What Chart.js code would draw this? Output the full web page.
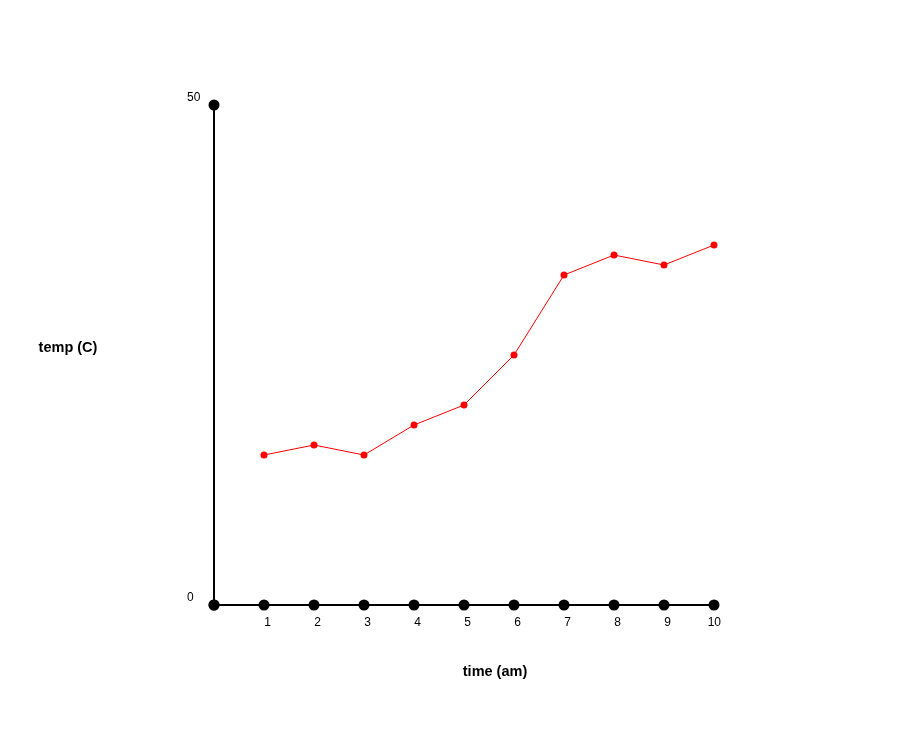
<!DOCTYPE html>
<html>
<head>
<meta charset="utf-8">
<script src="https://cdn.jsdelivr.net/npm/chart.js@4/dist/chart.umd.min.js"></script>
<style>
  body { margin: 0; background: #fff; }
</style>
</head>
<body>
<canvas id="grafica" width="901" height="730"></canvas>
<script>
const horas = [1, 2, 3, 4, 5, 6, 7, 8, 9, 10];
const temperaturas = [15, 16, 15, 18, 20, 25, 33, 35, 34, 36];
const ticksX = [0, 1, 2, 3, 4, 5, 6, 7, 8, 9, 10];
const ticksY = [0, 50];
const tituloX = "time (am)";
const tituloY = "temp (C)";

// ejes dibujados como datasets para tener los puntos negros
const ejeX = ticksX.map(v => ({ x: v, y: 0 }));
const ejeY = ticksY.map(v => ({ x: 0, y: v }));
const serie = horas.map((h, i) => ({ x: h, y: temperaturas[i] }));

const etiquetas = {
  id: "etiquetas",
  afterDatasetsDraw(chart) {
    const c = chart.ctx;
    const sx = chart.scales.x;
    const sy = chart.scales.y;
    c.save();
    c.fillStyle = "#000";
    c.font = "12px 'Liberation Sans', Arial, sans-serif";
    c.textBaseline = "middle";
    c.textAlign = "right";
    ticksX.slice(1).forEach(v => {
      c.fillText(String(v), sx.getPixelForValue(v) + 7, sy.getPixelForValue(0) + 18);
    });
    c.textAlign = "left";
    ticksY.forEach(v => {
      c.fillText(String(v), sx.getPixelForValue(0) - 27, sy.getPixelForValue(v) - 7);
    });
    c.font = "bold 14.5px 'Liberation Sans', Arial, sans-serif";
    c.textAlign = "center";
    c.fillText(tituloX, 495, sy.getPixelForValue(0) + 67);
    c.fillText(tituloY, 68, (sy.top + sy.bottom) / 2 - 7);
    c.restore();
  }
};

const ctx = document.getElementById("grafica").getContext("2d");

new Chart(ctx, {
  type: "line",
  data: {
    datasets: [
      {
        label: "temp",
        data: serie,
        borderColor: "#ff0000",
        backgroundColor: "#ff0000",
        borderWidth: 1,
        pointRadius: 3.5,
        pointBorderWidth: 0,
        tension: 0,
        clip: false
      },
      {
        label: "ejeX",
        data: ejeX,
        borderColor: "#000",
        backgroundColor: "#000",
        borderWidth: 2,
        pointRadius: 5.5,
        pointBorderWidth: 0,
        clip: false
      },
      {
        label: "ejeY",
        data: ejeY,
        borderColor: "#000",
        backgroundColor: "#000",
        borderWidth: 2,
        pointRadius: 5.5,
        pointBorderWidth: 0,
        clip: false
      }
    ]
  },
  options: {
    responsive: false,
    animation: false,
    layout: { padding: { left: 214, right: 187, top: 105, bottom: 125 } },
    plugins: {
      legend: { display: false },
      tooltip: { enabled: false }
    },
    scales: {
      x: { type: "linear", min: 0, max: 10, display: false },
      y: { type: "linear", min: 0, max: 50, display: false }
    }
  },
  plugins: [etiquetas]
});
</script>
</body>
</html>
